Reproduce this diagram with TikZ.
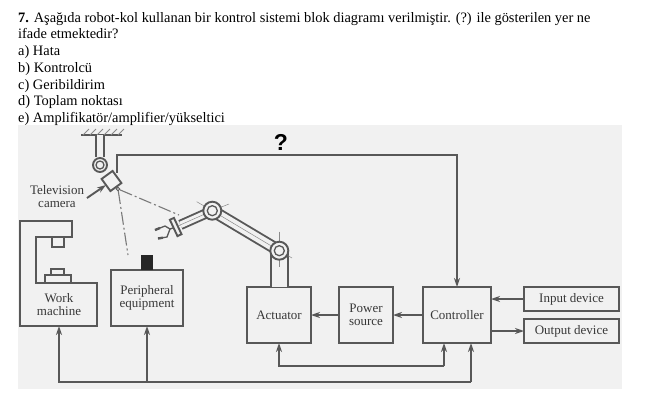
\documentclass[tikz,border=0pt]{standalone}
\usepackage{fontspec}
\setmainfont{Liberation Serif}
\newfontfamily\marksans{Liberation Sans}
\usetikzlibrary{positioning,arrows.meta}
\definecolor{photo}{HTML}{F1F1F1}
\definecolor{ink}{HTML}{585858}
\definecolor{labelink}{HTML}{383838}
\begin{document}
\begin{tikzpicture}[x=1pt, y=-1pt,
    main/.style = {draw=ink, line width=1.9pt, inner sep=0pt, outer sep=0pt, align=center, text=labelink, font=\fontsize{13}{13}\selectfont},
    lbl/.style = {inner sep=0pt, outer sep=0pt, align=center, text=labelink, font=\fontsize{13}{13}\selectfont},
    wire/.style = {draw=ink, line width=1.9pt},
    flow/.style = {wire, -{Stealth[length=9pt,width=6pt]}},
    sight/.style = {draw=ink!80, line width=1.1pt, dash pattern=on 13pt off 3pt on 2pt off 3pt},
    axisline/.style = {draw=ink!70, line width=0.5pt},
    joint/.style = {draw=ink, line width=1.9pt, circle, fill=photo, inner sep=0pt},
    link/.style = {draw=ink, line width=1.9pt, double=photo}]
    \useasboundingbox (0,0) rectangle (665,405);
    \fill[white] (0,0) rectangle (665,405);
    \fill[photo] (18,125) rectangle (622,389);
    %% Question
    \node[anchor=north west, inner sep=0pt, align=left, font=\fontsize{14.4}{16.75}\selectfont] (question) at (18,12)
        {\textbf{7.} Aşağıda robot-kol kullanan bir kontrol sistemi blok diagramı verilmiştir. (?) ile gösterilen yer ne\\
         ifade etmektedir?\\ a) Hata\\ b) Kontrolcü\\ c) Geribildirim\\ d) Toplam noktası\\ e) Amplifikatör/amplifier/yükseltici};
    \node[font=\marksans\bfseries\fontsize{23}{23}\selectfont] (mark) at (281,142) {?};
    %% Blocks
    \node[main, minimum width=64pt, minimum height=56pt] (act) at (279,315) {Actuator};
    \node[main, minimum width=54pt, minimum height=56pt] (psrc) [right=28pt of act] {Power\\source};
    \node[main, minimum width=68pt, minimum height=56pt] (ctrl) [right=30pt of psrc] {Controller};
    \node[main, minimum width=95pt, minimum height=24pt, anchor=north west] (indev) [right=33pt of ctrl.north east, anchor=north west] {Input device};
    \node[main, minimum width=95pt, minimum height=24pt] (outdev) [below=8pt of indev] {Output device};
    \node[main, minimum width=72pt, minimum height=56pt] (peri) at (147,298) {Peripheral\\equipment};
    \node[lbl, minimum width=78pt, minimum height=43pt] (workm) at (59,304.5) {Work\\machine};
    \node[lbl] (tvcam) at (57,197) {Television\\camera};
    %% Work machine and peripheral details
    \draw[wire] (workm.south) ++(-39,0) -- (20,221) -- (72,221) -- (72,237) -- (36,237) -- (36,283) -- (97,283) -- (97,326) -- cycle;
    \draw[wire, line width=1.3pt] (52,237) -- (52,247) -- (64,247) -- (64,237);
    \draw[wire, line width=1.3pt] (45,283) -- (45,275) -- (71,275) -- (71,283);
    \draw[wire, line width=1.3pt] (51,275) -- (51,269) -- (64,269) -- (64,275);
    \fill[black!85] (141,255) rectangle (153,270);
    %% Ceiling
    \draw[wire] (81,135) -- (122,135);
    \foreach \i in {0,...,5} \draw[axisline, line width=0.8pt] (83+\i*7,135) -- (89+\i*7,129);
    %% Camera
    \node[joint, minimum size=14pt] (jointc) at (100,165) {};
    \draw[link, double distance=5.5pt] (100,135) -- (jointc.north);
    \node[main, fill=photo, rotate=36, minimum width=13.6pt, minimum height=15pt] (cam) at (111.5,181) {};
    \node[joint, minimum size=8pt, line width=1.3pt] (jointci) at (100,165) {};
    \node[joint, minimum size=3.5pt, line width=0.8pt] (lens) at (118,189) {};
    \coordinate (camout) at (117,173);
    \coordinate (fbtop) at (117,155);
    \coordinate (tgta) at (179,215);
    \coordinate (tgtb) at (128,255);
    \draw[sight] (lens) -- (tgta);
    \draw[sight] (lens) -- (tgtb);
    %% Robot arm
    \coordinate (jointa) at (212.3,210.7);
    \coordinate (jointb) at (279.3,250.7);
    \node[main, fill=photo, rotate=25, minimum width=4.5pt, minimum height=18pt] (flange) at (175.7,227) {};
    \draw[link, double distance=15.5pt] (jointb) -- (jointb |- act.north);
    \draw[link, double distance=8.5pt] (jointa) -- (jointb);
    \draw[link, double distance=6.5pt, shorten <=3pt] (flange) -- (jointa);
    \draw[axisline] (flange) -- (jointa) -- (jointb);
    \draw[axisline] (196.7,201.7) -- (jointa) -- (229,204);
    \draw[axisline] (279.3,231.7) -- (279.3,266.7);
    \draw[axisline] (jointb) -- (292,258);
    \node[joint, minimum size=18pt] (ja) at (jointa) {};
    \node[joint, minimum size=10pt, line width=1.3pt] (jai) at (jointa) {};
    \node[joint, minimum size=18pt] (jb) at (jointb) {};
    \node[joint, minimum size=10pt, line width=1.3pt] (jbi) at (jointb) {};
    %% Gripper
    \draw[wire, line width=1.3pt] (flange) -- (170,229) -- (165,226) -- (155,230);
    \draw[wire, line width=1.3pt] (170,229) -- (167,237) -- (158,238.5);
    \draw[wire, line width=2.4pt] (155,230) -- (160,228);
    \draw[wire, line width=2.4pt] (158,238.5) -- (163,237.7);
    %% Arrows
    \coordinate (bus) at (471,382);
    \coordinate (busb) at (444,366);
    \draw[flow] (ctrl) -- (psrc);
    \draw[flow] (psrc) -- (act);
    \draw[flow] (indev.west) -- (indev.west -| ctrl.east);
    \draw[flow] (outdev.west -| ctrl.east) -- (outdev.west);
    \draw[flow] (camout) -- (fbtop) -- (fbtop -| ctrl.north) -- (ctrl.north);
    \draw[flow] (tvcam.east) ++(3,1) -- (cam.west);
    \draw[flow] (bus) -- (bus |- ctrl.south);
    \draw[flow] (bus) -- (bus -| workm.south) -- (workm.south);
    \draw[flow] (bus -| peri.south) -- (peri.south);
    \draw[flow] (busb) -- (busb |- ctrl.south);
    \draw[flow] (busb) -- (busb -| act.south) -- (act.south);
\end{tikzpicture}
\end{document}
